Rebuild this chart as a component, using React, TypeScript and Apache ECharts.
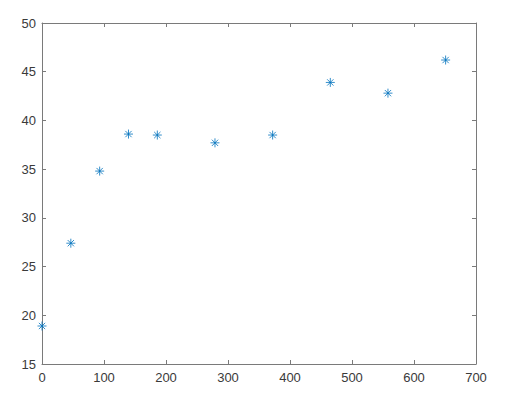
import React, { useRef, useEffect } from 'react';
import * as echarts from 'echarts';

const xValues = [0, 46.5, 93, 139.5, 186, 279, 372, 465, 558, 651];
const yValues = [18.9, 27.4, 34.8, 38.6, 38.5, 37.7, 38.5, 43.9, 42.8, 46.2];

const AXIS_COLOR = '#7a7a7a';
const LABEL_COLOR = '#3a3a3a';
const MARKER_COLOR = '#0072BD';
const ASTERISK = 'path://M0,5L10,5M5,0L5,10M1.5,1.5L8.5,8.5M1.5,8.5L8.5,1.5';

const axisLine = { show: true, onZero: false, lineStyle: { color: AXIS_COLOR, width: 1 } };
const axisTick = { show: true, inside: true, length: 4, lineStyle: { color: AXIS_COLOR } };

const App: React.FC = () => {
  const chartRef = useRef<HTMLDivElement>(null);

  useEffect(() => {
    const chart = echarts.init(chartRef.current, null, { renderer: 'svg' });

    const labelFont = {
      fontFamily: '"Liberation Sans", Arial, sans-serif',
      fontSize: 13,
      color: LABEL_COLOR,
    };

    chart.setOption({
      animation: false,
      backgroundColor: '#fff',
      grid: { left: 42, right: 38, top: 23, bottom: 46, containLabel: false },
      xAxis: [
        {
          type: 'value', min: 0, max: 700, interval: 100,
          axisLine, axisTick, splitLine: { show: false },
          axisLabel: { ...labelFont, margin: 7 },
        },
        {
          type: 'value', position: 'top', min: 0, max: 700, interval: 100,
          axisLine, axisTick, splitLine: { show: false },
          axisLabel: { show: false },
        },
      ],
      yAxis: [
        {
          type: 'value', min: 15, max: 50, interval: 5,
          axisLine, axisTick, splitLine: { show: false },
          axisLabel: { ...labelFont, margin: 6 },
        },
        {
          type: 'value', position: 'right', min: 15, max: 50, interval: 5,
          axisLine, axisTick, splitLine: { show: false },
          axisLabel: { show: false },
        },
      ],
      series: [
        {
          type: 'scatter',
          symbol: ASTERISK,
          symbolSize: 9,
          itemStyle: { color: 'none', borderColor: MARKER_COLOR, borderWidth: 1 },
          data: xValues.map((x, i) => [x, yValues[i]]),
        },
      ],
    });

    return () => {
      chart.dispose();
    };
  }, []);

  return (
    <div
      ref={chartRef}
      style={{ position: 'fixed', left: 0, top: 0, width: '514px', height: '410px' }}
    />
  );
};

export default App;
